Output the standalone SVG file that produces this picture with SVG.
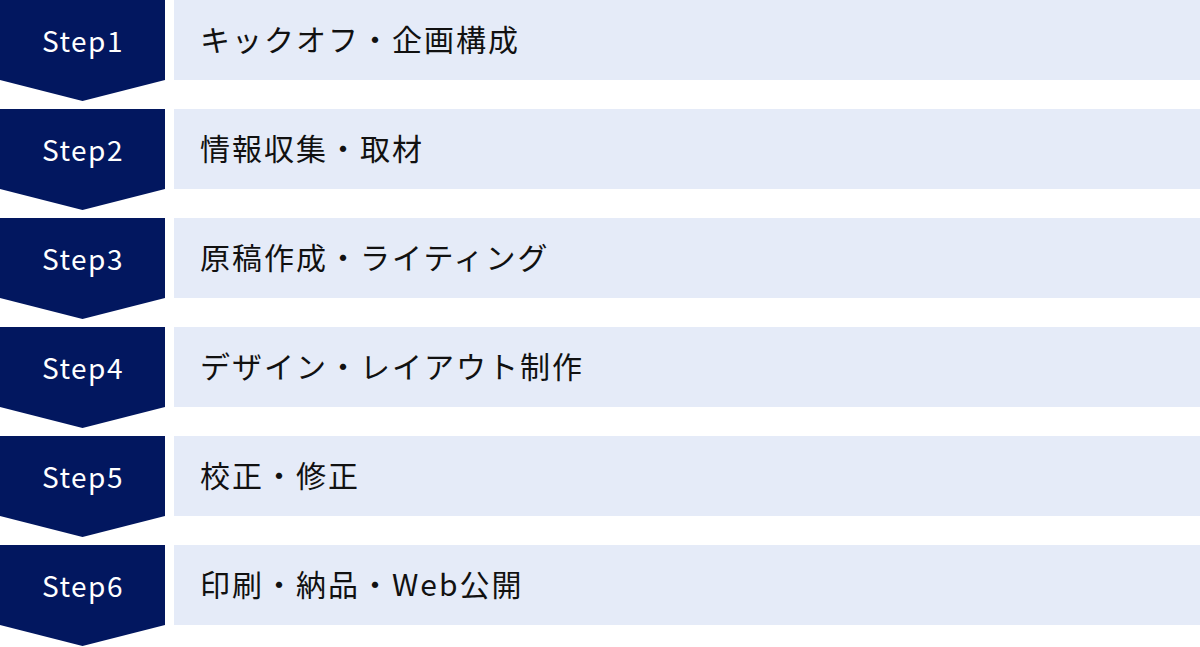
<svg xmlns="http://www.w3.org/2000/svg" width="1200" height="647" viewBox="0 0 1200 647">
<style>
.bg{fill:#ffffff}
.step{fill:#02175f}
.box{fill:#e5ebf8}
.st{font-family:"Noto Sans CJK JP","Noto Sans",sans-serif;font-size:28px;fill:#ffffff;text-anchor:middle;letter-spacing:1.5px}
.lb{font-family:"Noto Sans CJK JP","Noto Sans",sans-serif;font-size:30px;fill:#111111;letter-spacing:2px}
</style>
<rect class="bg" x="0" y="0" width="1200" height="647"/>
<g id="step1" transform="translate(0,0)">
<polygon class="step" points="0,0 165,0 165,80 82.5,101 0,80"/>
<rect class="box" x="174" y="0" width="1026" height="80"/>
<text class="st" x="83" y="52">Step1</text>
<text class="lb" x="200" y="51">キックオフ・企画構成</text>
</g>
<g id="step2" transform="translate(0,109)">
<polygon class="step" points="0,0 165,0 165,80 82.5,101 0,80"/>
<rect class="box" x="174" y="0" width="1026" height="80"/>
<text class="st" x="83" y="52">Step2</text>
<text class="lb" x="200" y="51">情報収集・取材</text>
</g>
<g id="step3" transform="translate(0,218)">
<polygon class="step" points="0,0 165,0 165,80 82.5,101 0,80"/>
<rect class="box" x="174" y="0" width="1026" height="80"/>
<text class="st" x="83" y="52">Step3</text>
<text class="lb" x="200" y="51">原稿作成・ライティング</text>
</g>
<g id="step4" transform="translate(0,327)">
<polygon class="step" points="0,0 165,0 165,80 82.5,101 0,80"/>
<rect class="box" x="174" y="0" width="1026" height="80"/>
<text class="st" x="83" y="52">Step4</text>
<text class="lb" x="200" y="51">デザイン・レイアウト制作</text>
</g>
<g id="step5" transform="translate(0,436)">
<polygon class="step" points="0,0 165,0 165,80 82.5,101 0,80"/>
<rect class="box" x="174" y="0" width="1026" height="80"/>
<text class="st" x="83" y="52">Step5</text>
<text class="lb" x="200" y="51">校正・修正</text>
</g>
<g id="step6" transform="translate(0,545)">
<polygon class="step" points="0,0 165,0 165,80 82.5,101 0,80"/>
<rect class="box" x="174" y="0" width="1026" height="80"/>
<text class="st" x="83" y="52">Step6</text>
<text class="lb" x="200" y="51">印刷・納品・Web公開</text>
</g>
<g id="connectors"></g>
</svg>
